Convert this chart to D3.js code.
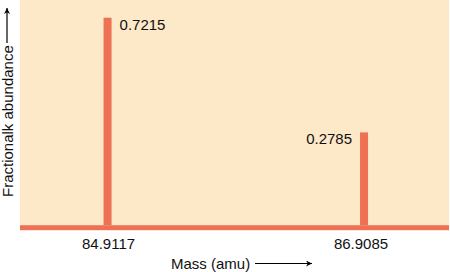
<!DOCTYPE html>
<html lang="en">
<head>
  <meta charset="UTF-8" />
  <title>Isotope abundance</title>
  <script src="https://cdn.jsdelivr.net/npm/d3@7"></script>
  <style>
    html, body { margin: 0; padding: 0; background: #fff; }
    svg { display: block; font-family: "Liberation Sans", Arial, sans-serif; }
  </style>
</head>
<body>
  <svg id="chart" width="450" height="272"></svg>
  <script>
    // data
    const masses = [84.9117, 86.9085];
    const abundances = [0.7215, 0.2785];
    const massLabels = ["84.9117", "86.9085"];
    const valueLabels = ["0.7215", "0.2785"];

    const svg = d3.select("#chart");
    const plot = {left: 20, right: 449, top: 0, base: 225.2};

    const x = d3.scaleLinear().domain([84.23, 87.57]).range([plot.left, plot.right]);
    const y = d3.scaleLinear().domain([-0.08, 0.79]).range([plot.base, 0]);

    const bg = "#fde8c8", barColor = "#ed7152";

    // arrow marker
    const defs = svg.append("defs");
    defs.append("marker")
      .attr("id", "arrow")
      .attr("viewBox", "0 0 10 10")
      .attr("refX", 10).attr("refY", 5)
      .attr("markerWidth", 10).attr("markerHeight", 6)
      .attr("markerUnits", "userSpaceOnUse")
      .attr("orient", "auto")
      .append("path").attr("d", "M0,0 L10,5 L0,10 L3,5 Z").attr("fill", "#000");

    // plot background
    svg.append("rect")
      .attr("x", plot.left).attr("y", plot.top)
      .attr("width", plot.right - plot.left).attr("height", plot.base - plot.top)
      .attr("fill", bg);

    const data = masses.map((m, i) => ({m, v: abundances[i], ml: massLabels[i], vl: valueLabels[i]}));

    // bars (thin lines)
    svg.selectAll("rect.bar")
      .data(data)
      .enter().append("rect")
        .attr("class", "bar")
        .attr("x", d => x(d.m) - 4)
        .attr("width", 8)
        .attr("y", d => y(d.v))
        .attr("height", d => y.range()[0] - y(d.v))
        .attr("fill", barColor);

    // baseline
    svg.append("rect")
      .attr("x", plot.left).attr("y", plot.base)
      .attr("width", plot.right - plot.left).attr("height", 5)
      .attr("fill", barColor);

    // value labels: first to the right of its bar, second to the left
    svg.selectAll("text.val")
      .data(data)
      .enter().append("text")
        .attr("class", "val")
        .attr("x", (d, i) => i === 0 ? x(d.m) + 12 : x(d.m) - 12)
        .attr("y", d => y(d.v) + 12)
        .attr("text-anchor", (d, i) => i === 0 ? "start" : "end")
        .style("font-size", "15px")
        .attr("fill", "#111")
        .text(d => d.vl);

    // mass tick labels
    svg.selectAll("text.tick")
      .data(data)
      .enter().append("text")
        .attr("class", "tick")
        .attr("x", (d, i) => x(d.m) + (i === 0 ? 1 : -3))
        .attr("y", 249)
        .attr("text-anchor", "middle")
        .style("font-size", "15px")
        .attr("fill", "#111")
        .text(d => d.ml);

    // x axis title + arrow
    svg.append("text")
      .attr("x", 171).attr("y", 269)
      .style("font-size", "15px")
      .attr("fill", "#111")
      .text("Mass (amu)");
    svg.append("line")
      .attr("x1", 255).attr("y1", 263.5).attr("x2", 312).attr("y2", 263.5)
      .attr("stroke", "#000").attr("stroke-width", 1.2)
      .attr("marker-end", "url(#arrow)");

    // y axis title + arrow
    svg.append("text")
      .attr("transform", "translate(13,197) rotate(-90)")
      .style("font-size", "15px")
      .attr("fill", "#111")
      .text("Fractionalk abundance");
    svg.append("line")
      .attr("x1", 7).attr("y1", 43).attr("x2", 7).attr("y2", 8)
      .attr("stroke", "#000").attr("stroke-width", 1.2)
      .attr("marker-end", "url(#arrow)");
  </script>
</body>
</html>
